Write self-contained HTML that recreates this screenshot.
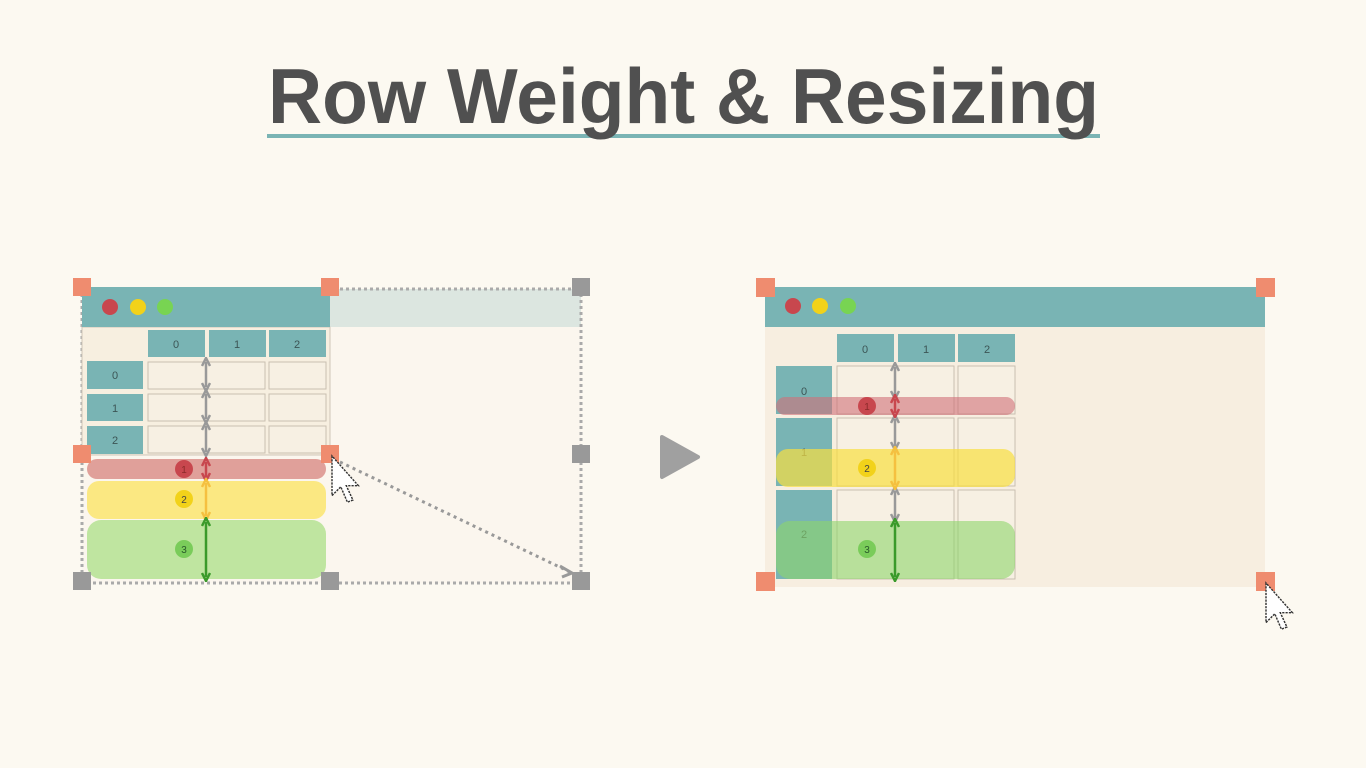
<!DOCTYPE html>
<html><head><meta charset="utf-8"><style>
html,body{margin:0;padding:0;background:#fcf9f1;}
svg{display:block}
text{font-family:"Liberation Sans",sans-serif;}
</style></head><body>
<svg width="1366" height="768" viewBox="0 0 1366 768" xmlns="http://www.w3.org/2000/svg">
<defs>
<marker id="ag" viewBox="0 0 10 10" refX="5" refY="5" markerWidth="4" markerHeight="4" orient="auto-start-reverse"><path d="M1,1 L9,5 L1,9" fill="none" stroke="#999" stroke-width="2.5"/></marker>
<marker id="ar" viewBox="0 0 10 10" refX="5" refY="5" markerWidth="4" markerHeight="4" orient="auto-start-reverse"><path d="M1,1 L9,5 L1,9" fill="none" stroke="#c8474e" stroke-width="2.5"/></marker>
<marker id="ay" viewBox="0 0 10 10" refX="5" refY="5" markerWidth="4" markerHeight="4" orient="auto-start-reverse"><path d="M1,1 L9,5 L1,9" fill="none" stroke="#f5c040" stroke-width="2.5"/></marker>
<marker id="agr" viewBox="0 0 10 10" refX="5" refY="5" markerWidth="4" markerHeight="4" orient="auto-start-reverse"><path d="M1,1 L9,5 L1,9" fill="none" stroke="#3a9a2a" stroke-width="2.5"/></marker>
</defs>
<rect width="1366" height="768" fill="#fcf9f1"/>
<!-- title -->
<rect x="267" y="134" width="833" height="4" fill="#7ab4b4"/>
<text x="268" y="123" font-size="78" font-weight="bold" fill="#505050" textLength="831" lengthAdjust="spacingAndGlyphs">Row Weight &amp; Resizing</text>

<!-- LEFT -->
<rect x="82" y="289" width="499" height="294" fill="#fbf6ee"/>
<rect x="330" y="289" width="251" height="38" fill="#dce6e0"/>
<rect x="82" y="289" width="499" height="294" fill="none" stroke="#aaa" stroke-width="3" stroke-dasharray="3,3"/>
<rect x="82" y="327" width="248" height="128" fill="#f7efe0" stroke="#cfc6b8" stroke-width="1"/>
<rect x="82" y="287" width="248" height="40" fill="#79b4b4"/>
<circle cx="110" cy="307" r="8" fill="#c8474e"/><circle cx="138" cy="307" r="8" fill="#f2d21a"/><circle cx="165" cy="307" r="8" fill="#78d452"/>
<g font-size="11" fill="#3c5555" text-anchor="middle">
<rect x="148" y="330" width="57" height="27" fill="#79b4b4"/><text x="176" y="348">0</text>
<rect x="209" y="330" width="57" height="27" fill="#79b4b4"/><text x="237" y="348">1</text>
<rect x="269" y="330" width="57" height="27" fill="#79b4b4"/><text x="297" y="348">2</text>
<rect x="87" y="361" width="56" height="28" fill="#79b4b4"/><text x="115" y="379">0</text>
<rect x="87" y="394" width="56" height="27" fill="#79b4b4"/><text x="115" y="412">1</text>
<rect x="87" y="426" width="56" height="28" fill="#79b4b4"/><text x="115" y="444">2</text>
</g>
<g fill="#f7f0e3" stroke="#c9bfb0">
<rect x="148" y="362" width="117" height="27"/><rect x="269" y="362" width="57" height="27"/>
<rect x="148" y="394" width="117" height="27"/><rect x="269" y="394" width="57" height="27"/>
<rect x="148" y="426" width="117" height="27"/><rect x="269" y="426" width="57" height="27"/>
</g>
<g stroke="#999" stroke-width="2.5">
<line x1="206" y1="362" x2="206" y2="387" marker-start="url(#ag)" marker-end="url(#ag)"/>
<line x1="206" y1="394" x2="206" y2="419" marker-start="url(#ag)" marker-end="url(#ag)"/>
<line x1="206" y1="426" x2="206" y2="452" marker-start="url(#ag)" marker-end="url(#ag)"/>
</g>
<rect x="87" y="459" width="239" height="20" rx="10" fill="#e0a09a"/>
<rect x="87" y="481" width="239" height="38" rx="12" fill="#fbe882"/>
<rect x="87" y="520" width="239" height="59" rx="14" fill="#bfe5a0"/>
<circle cx="184" cy="469" r="9" fill="#c8474e"/><text x="184" y="473" font-size="10" text-anchor="middle" fill="#8a2a2a">1</text>
<circle cx="184" cy="499" r="9" fill="#f2d21a"/><text x="184" y="503" font-size="10" text-anchor="middle" fill="#444">2</text>
<circle cx="184" cy="549" r="9" fill="#7acc5a"/><text x="184" y="553" font-size="10" text-anchor="middle" fill="#2a5a2a">3</text>
<line x1="206" y1="462" x2="206" y2="477" stroke="#c8474e" stroke-width="2.5" marker-start="url(#ar)" marker-end="url(#ar)"/>
<line x1="206" y1="483" x2="206" y2="516" stroke="#f5c040" stroke-width="2.5" marker-start="url(#ay)" marker-end="url(#ay)"/>
<line x1="206" y1="522" x2="206" y2="577" stroke="#3a9a2a" stroke-width="2.5" marker-start="url(#agr)" marker-end="url(#agr)"/>
<line x1="340" y1="462" x2="570" y2="572" stroke="#999" stroke-width="3" stroke-dasharray="3,4"/>
<path d="M560,566 L572,573 L562,577" fill="none" stroke="#999" stroke-width="3"/>
<g fill="#ef8c6f"><rect x="73" y="278" width="18" height="18"/><rect x="321" y="278" width="18" height="18"/><rect x="73" y="445" width="18" height="18"/><rect x="321" y="445" width="18" height="18"/></g>
<g fill="#999"><rect x="572" y="278" width="18" height="18"/><rect x="572" y="445" width="18" height="18"/><rect x="73" y="572" width="18" height="18"/><rect x="321" y="572" width="18" height="18"/><rect x="572" y="572" width="18" height="18"/></g>
<path transform="translate(332,456) scale(1.1)" d="M0,0 L0,36 L8,28 L14,42 L19,40 L13,27 L24,27 Z" fill="#fff" stroke="#333" stroke-width="1.3" stroke-dasharray="2,1"/>

<!-- play -->
<path d="M662,437 L698,457 L662,477 Z" fill="#a0a0a0" stroke="#a0a0a0" stroke-width="4" stroke-linejoin="round"/>

<!-- RIGHT -->
<rect x="765" y="327" width="500" height="260" fill="#f7eee0"/>
<rect x="765" y="287" width="500" height="40" fill="#79b4b4"/>
<circle cx="793" cy="306" r="8" fill="#c8474e"/><circle cx="820" cy="306" r="8" fill="#f2d21a"/><circle cx="848" cy="306" r="8" fill="#78d452"/>
<g font-size="11" fill="#3c5555" text-anchor="middle">
<rect x="837" y="334" width="57" height="28" fill="#79b4b4"/><text x="865" y="353">0</text>
<rect x="898" y="334" width="57" height="28" fill="#79b4b4"/><text x="926" y="353">1</text>
<rect x="958" y="334" width="57" height="28" fill="#79b4b4"/><text x="987" y="353">2</text>
<rect x="776" y="366" width="56" height="48" fill="#79b4b4"/><text x="804" y="395">0</text>
<rect x="776" y="418" width="56" height="68" fill="#79b4b4"/><text x="804" y="456">1</text>
<rect x="776" y="490" width="56" height="89" fill="#79b4b4"/><text x="804" y="538">2</text>
</g>
<g fill="#f7f0e3" stroke="#c9bfb0">
<rect x="837" y="366" width="117" height="48"/><rect x="958" y="366" width="57" height="48"/>
<rect x="837" y="418" width="117" height="68"/><rect x="958" y="418" width="57" height="68"/>
<rect x="837" y="490" width="117" height="89"/><rect x="958" y="490" width="57" height="89"/>
</g>
<g stroke="#999" stroke-width="2.5">
<line x1="895" y1="367" x2="895" y2="395" marker-start="url(#ag)" marker-end="url(#ag)"/>
<line x1="895" y1="419" x2="895" y2="446" marker-start="url(#ag)" marker-end="url(#ag)"/>
<line x1="895" y1="491" x2="895" y2="518" marker-start="url(#ag)" marker-end="url(#ag)"/>
</g>
<rect x="776" y="397" width="239" height="18" rx="9" fill="#d07078" opacity="0.6"/>
<rect x="776" y="449" width="239" height="38" rx="12" fill="#f8de40" opacity="0.7"/>
<rect x="776" y="521" width="239" height="58" rx="14" fill="#8ed56a" opacity="0.6"/>
<circle cx="867" cy="406" r="9" fill="#c8474e"/><text x="867" y="410" font-size="10" text-anchor="middle" fill="#8a2a2a">1</text>
<circle cx="867" cy="468" r="9" fill="#f2d21a"/><text x="867" y="472" font-size="10" text-anchor="middle" fill="#444">2</text>
<circle cx="867" cy="549" r="9" fill="#7acc5a"/><text x="867" y="553" font-size="10" text-anchor="middle" fill="#2a5a2a">3</text>
<line x1="895" y1="399" x2="895" y2="413" stroke="#c8474e" stroke-width="2.5" marker-start="url(#ar)" marker-end="url(#ar)"/>
<line x1="895" y1="451" x2="895" y2="485" stroke="#f5c040" stroke-width="2.5" marker-start="url(#ay)" marker-end="url(#ay)"/>
<line x1="895" y1="523" x2="895" y2="577" stroke="#3a9a2a" stroke-width="2.5" marker-start="url(#agr)" marker-end="url(#agr)"/>
<g fill="#ef8c6f"><rect x="756" y="278" width="19" height="19"/><rect x="1256" y="278" width="19" height="19"/><rect x="756" y="572" width="19" height="19"/><rect x="1256" y="572" width="19" height="19"/></g>
<path transform="translate(1266,583) scale(1.1)" d="M0,0 L0,36 L8,28 L14,42 L19,40 L13,27 L24,27 Z" fill="#fff" stroke="#333" stroke-width="1.3" stroke-dasharray="2,1"/>
</svg>
</body></html>
